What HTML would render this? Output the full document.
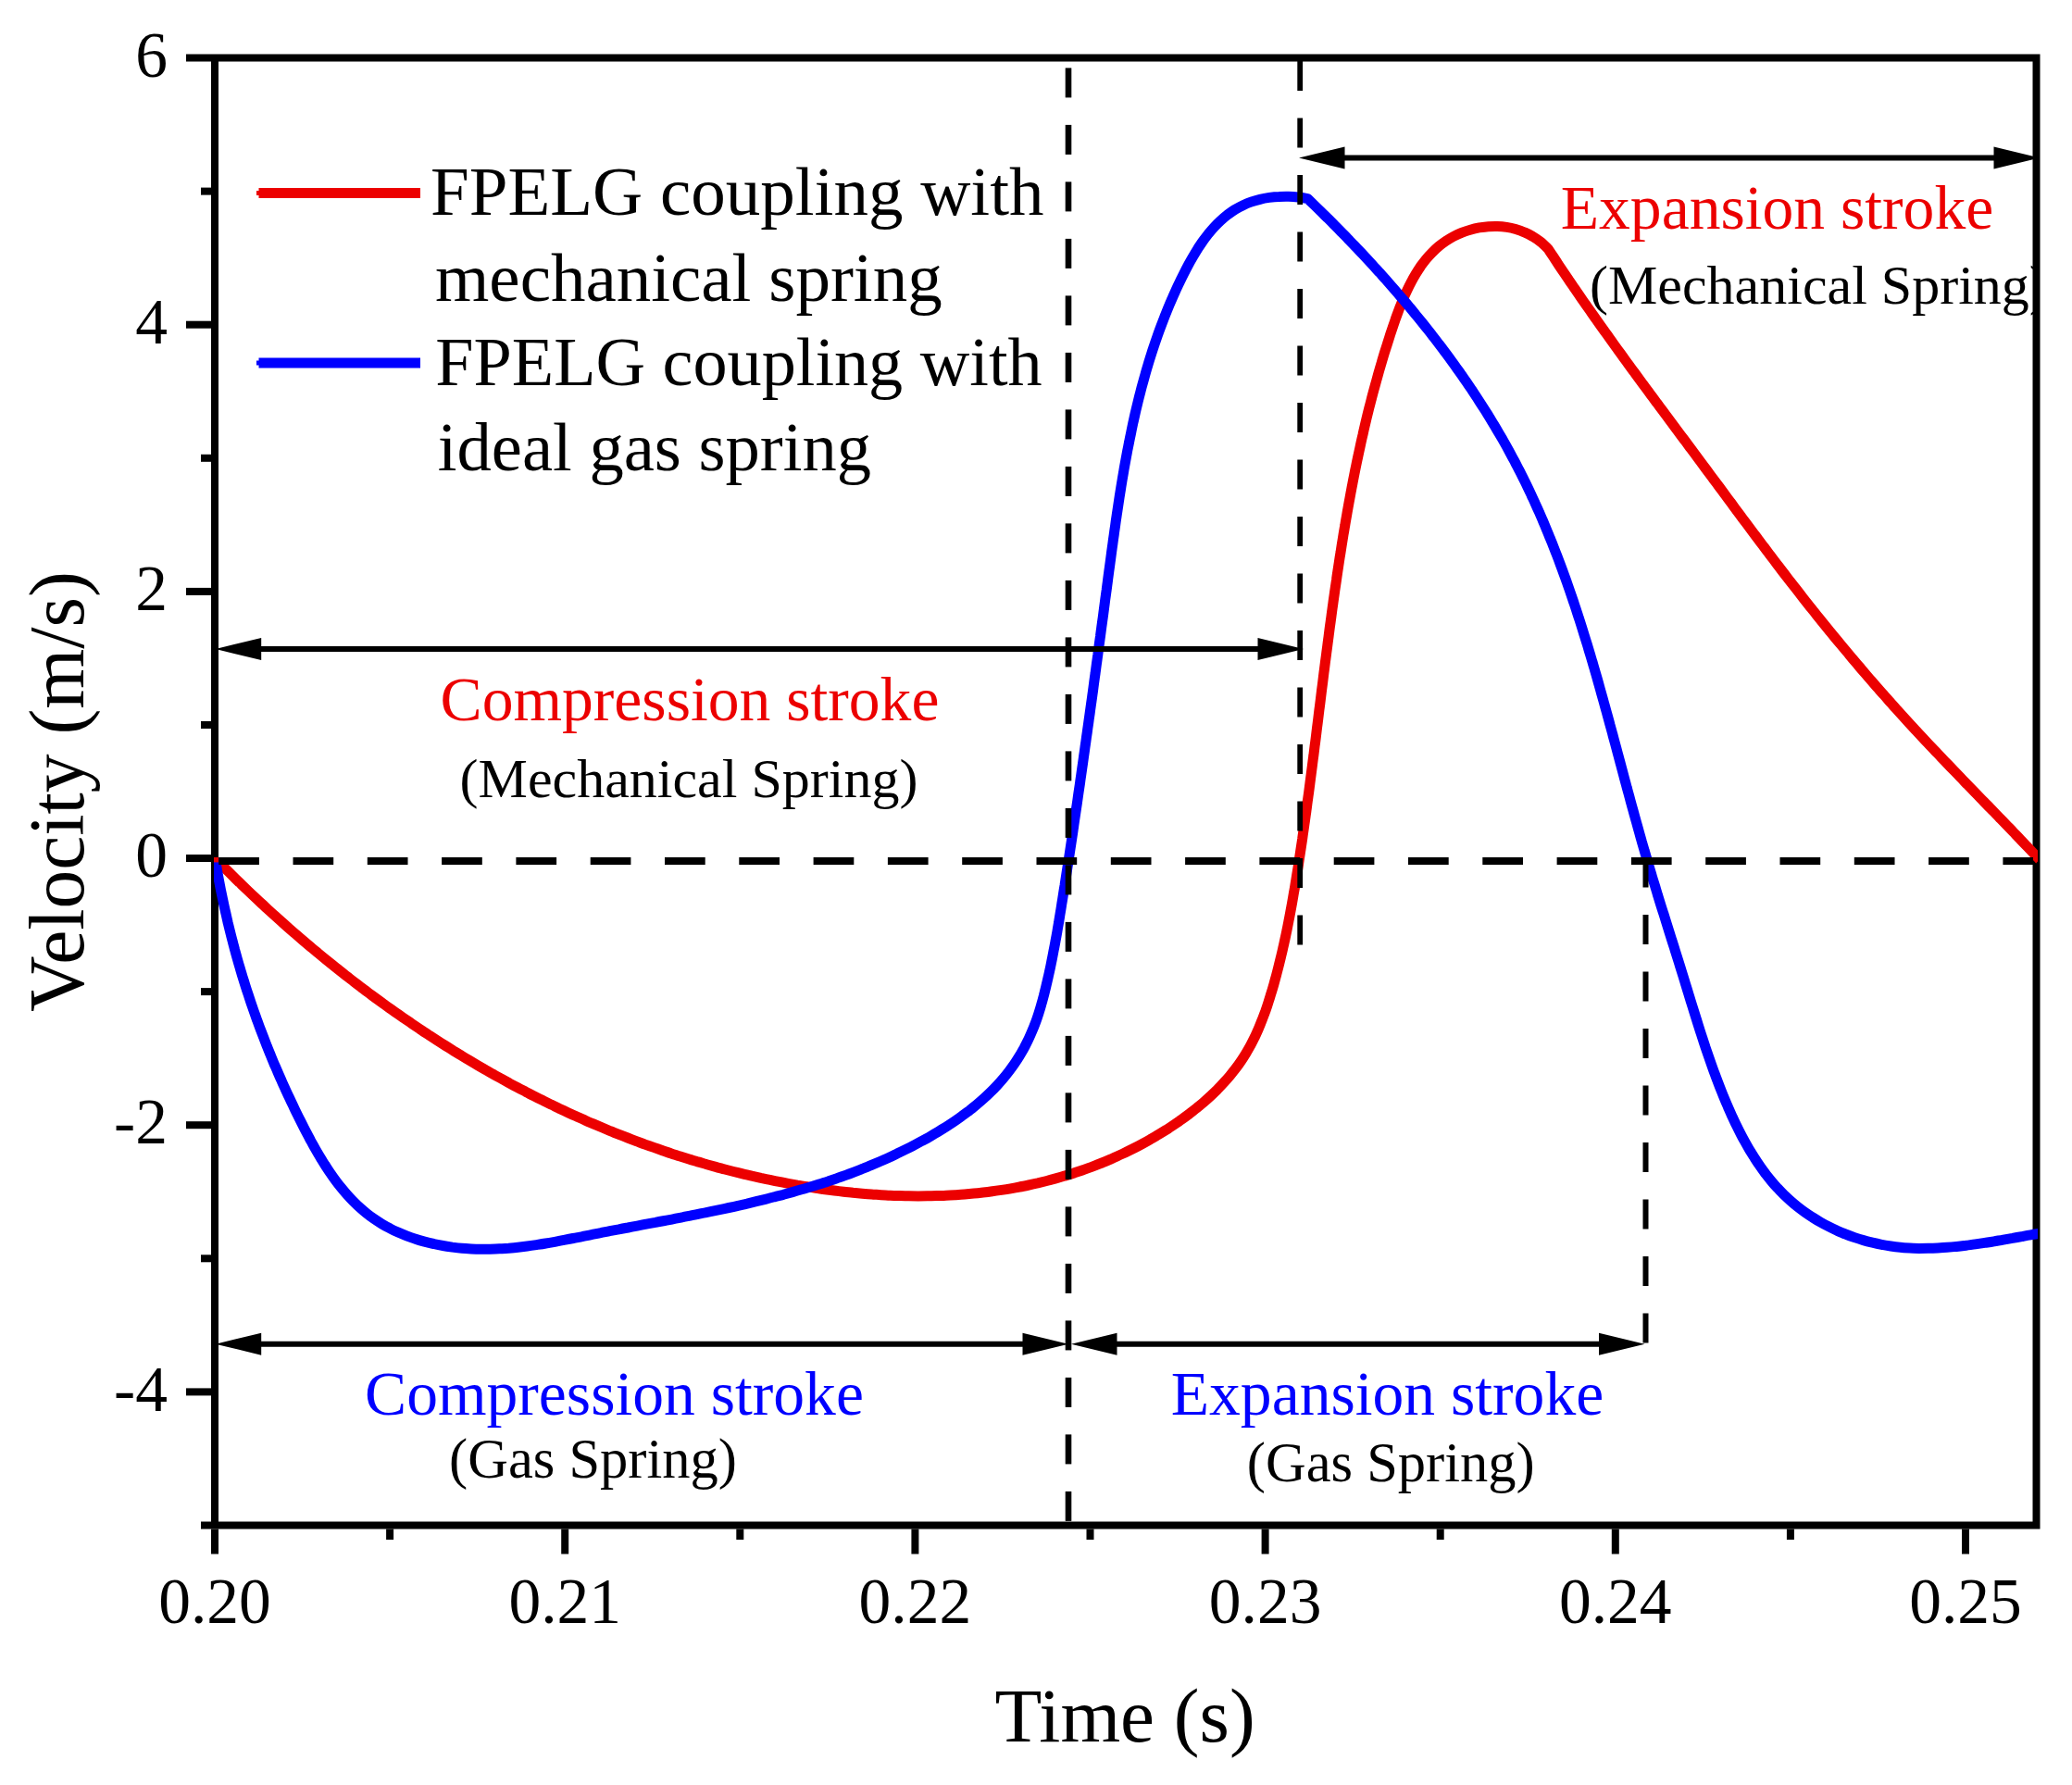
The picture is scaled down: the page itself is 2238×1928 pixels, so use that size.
<!DOCTYPE html>
<html lang="en"><head><meta charset="utf-8"><title>Velocity vs Time</title>
<style>html,body{margin:0;padding:0;background:#fff}body{width:2238px;height:1928px;overflow:hidden}svg{display:block}</style>
</head><body>
<svg width="2238" height="1928" viewBox="0 0 2238 1928" role="img" aria-label="Velocity versus time for FPELG with mechanical spring and ideal gas spring">
<rect x="0" y="0" width="2238" height="1928" fill="#fff"/>
<defs><clipPath id="pc"><rect x="231" y="62" width="1970" height="1586"/></clipPath><clipPath id="pcr"><path d="M231 926H246V62H2201V1648H231Z"/></clipPath></defs>
<g stroke="#000" stroke-width="8" fill="none" stroke-linecap="butt">
<rect x="232.0" y="62.5" width="1967.5" height="1585.0"/>
<line x1="217.0" y1="1647.5" x2="228.0" y2="1647.5"/>
<line x1="201.0" y1="1503.4" x2="228.0" y2="1503.4"/>
<line x1="217.0" y1="1359.3" x2="228.0" y2="1359.3"/>
<line x1="201.0" y1="1215.2" x2="228.0" y2="1215.2"/>
<line x1="217.0" y1="1071.1" x2="228.0" y2="1071.1"/>
<line x1="201.0" y1="927.0" x2="228.0" y2="927.0"/>
<line x1="217.0" y1="783.0" x2="228.0" y2="783.0"/>
<line x1="201.0" y1="638.9" x2="228.0" y2="638.9"/>
<line x1="217.0" y1="494.8" x2="228.0" y2="494.8"/>
<line x1="201.0" y1="350.7" x2="228.0" y2="350.7"/>
<line x1="217.0" y1="206.6" x2="228.0" y2="206.6"/>
<line x1="201.0" y1="62.5" x2="228.0" y2="62.5"/>
<line x1="232.0" y1="1651.5" x2="232.0" y2="1678.5"/>
<line x1="421.1" y1="1651.5" x2="421.1" y2="1663.0"/>
<line x1="610.2" y1="1651.5" x2="610.2" y2="1678.5"/>
<line x1="799.3" y1="1651.5" x2="799.3" y2="1663.0"/>
<line x1="988.4" y1="1651.5" x2="988.4" y2="1678.5"/>
<line x1="1177.5" y1="1651.5" x2="1177.5" y2="1663.0"/>
<line x1="1366.6" y1="1651.5" x2="1366.6" y2="1678.5"/>
<line x1="1555.7" y1="1651.5" x2="1555.7" y2="1663.0"/>
<line x1="1744.8" y1="1651.5" x2="1744.8" y2="1678.5"/>
<line x1="1933.9" y1="1651.5" x2="1933.9" y2="1663.0"/>
<line x1="2123.0" y1="1651.5" x2="2123.0" y2="1678.5"/>
</g>
<g fill="none" stroke-width="11.0" stroke-linejoin="round" stroke-linecap="butt">
<path clip-path="url(#pcr)" d="M232.3 927.0C233.5 928.2 237.0 931.7 239.3 934.1C241.7 936.5 244.0 938.8 246.4 941.2C248.7 943.5 251.1 945.9 253.5 948.2C255.9 950.5 258.3 952.9 260.7 955.2C263.1 957.5 265.5 959.8 267.9 962.1C270.3 964.4 272.7 966.7 275.2 969.0C277.6 971.3 280.0 973.6 282.5 975.9C284.9 978.2 287.4 980.4 289.9 982.7C292.3 984.9 294.8 987.2 297.3 989.4C299.8 991.7 302.3 993.9 304.8 996.1C307.3 998.4 309.8 1000.6 312.3 1002.8C314.8 1005.0 317.3 1007.2 319.9 1009.4C322.4 1011.6 324.9 1013.8 327.5 1016.0C330.0 1018.1 332.6 1020.3 335.2 1022.5C337.7 1024.6 340.3 1026.8 342.9 1028.9C345.5 1031.1 348.0 1033.2 350.6 1035.3C353.2 1037.4 355.8 1039.6 358.5 1041.7C361.1 1043.8 363.7 1045.9 366.3 1047.9C369.0 1050.0 371.6 1052.1 374.2 1054.2C376.9 1056.2 379.5 1058.3 382.2 1060.3C384.9 1062.4 387.5 1064.4 390.2 1066.5C392.9 1068.5 395.6 1070.5 398.2 1072.5C400.9 1074.5 403.6 1076.5 406.3 1078.5C409.1 1080.5 411.8 1082.5 414.5 1084.4C417.2 1086.4 419.9 1088.3 422.7 1090.3C425.4 1092.2 428.2 1094.2 430.9 1096.1C433.7 1098.0 436.4 1099.9 439.2 1101.8C441.9 1103.7 444.7 1105.6 447.5 1107.5C450.3 1109.4 453.1 1111.3 455.9 1113.1C458.7 1115.0 461.5 1116.8 464.3 1118.7C467.1 1120.5 469.9 1122.3 472.7 1124.1C475.5 1125.9 478.4 1127.7 481.2 1129.5C484.0 1131.3 486.9 1133.1 489.7 1134.9C492.6 1136.6 495.4 1138.4 498.3 1140.1C501.2 1141.9 504.0 1143.6 506.9 1145.3C509.8 1147.0 512.7 1148.7 515.6 1150.4C518.5 1152.1 521.4 1153.8 524.3 1155.5C527.2 1157.1 530.1 1158.8 533.0 1160.4C535.9 1162.1 538.9 1163.7 541.8 1165.3C544.7 1167.0 547.7 1168.6 550.6 1170.2C553.6 1171.8 556.5 1173.3 559.5 1174.9C562.4 1176.5 565.4 1178.0 568.4 1179.6C571.3 1181.1 574.3 1182.6 577.3 1184.1C580.3 1185.7 583.3 1187.2 586.3 1188.6C589.3 1190.1 592.3 1191.6 595.3 1193.1C598.3 1194.5 601.3 1196.0 604.3 1197.4C607.3 1198.8 610.4 1200.3 613.4 1201.7C616.4 1203.1 619.5 1204.5 622.5 1205.8C625.6 1207.2 628.6 1208.6 631.7 1209.9C634.7 1211.3 637.8 1212.6 640.9 1213.9C643.9 1215.2 647.0 1216.5 650.1 1217.8C653.2 1219.1 656.3 1220.4 659.3 1221.7C662.4 1222.9 665.5 1224.2 668.6 1225.4C671.7 1226.6 674.9 1227.8 678.0 1229.0C681.1 1230.2 684.2 1231.4 687.3 1232.6C690.5 1233.8 693.6 1234.9 696.7 1236.1C699.9 1237.2 703.0 1238.3 706.2 1239.4C709.3 1240.5 712.5 1241.6 715.6 1242.7C718.8 1243.8 722.0 1244.9 725.1 1245.9C728.3 1246.9 731.5 1248.0 734.7 1249.0C737.8 1250.0 741.0 1251.0 744.2 1252.0C747.4 1253.0 750.6 1253.9 753.8 1254.9C757.0 1255.8 760.2 1256.8 763.4 1257.7C766.7 1258.6 769.9 1259.5 773.1 1260.4C776.3 1261.3 779.5 1262.1 782.8 1263.0C786.0 1263.8 789.3 1264.7 792.5 1265.5C795.7 1266.3 799.0 1267.1 802.2 1267.9C805.5 1268.7 808.8 1269.4 812.0 1270.2C815.3 1270.9 818.5 1271.6 821.8 1272.4C825.1 1273.1 828.4 1273.8 831.7 1274.4C834.9 1275.1 838.2 1275.8 841.5 1276.4C844.8 1277.1 848.1 1277.7 851.4 1278.3C854.7 1278.9 858.0 1279.5 861.3 1280.1C864.6 1280.6 867.9 1281.2 871.3 1281.7C874.6 1282.3 877.9 1282.8 881.2 1283.3C884.6 1283.8 887.9 1284.2 891.2 1284.7C894.6 1285.2 897.9 1285.6 901.2 1286.0C904.6 1286.4 907.9 1286.8 911.3 1287.2C914.6 1287.6 917.9 1287.9 921.3 1288.3C924.6 1288.6 928.0 1288.9 931.3 1289.2C934.7 1289.5 938.1 1289.8 941.4 1290.0C944.8 1290.2 948.1 1290.5 951.5 1290.7C954.8 1290.9 958.2 1291.0 961.5 1291.2C964.9 1291.4 968.3 1291.5 971.6 1291.6C975.0 1291.7 978.3 1291.8 981.7 1291.8C985.0 1291.9 988.4 1291.9 991.7 1291.9C995.1 1291.9 998.5 1291.9 1001.8 1291.8C1005.2 1291.8 1008.5 1291.7 1011.8 1291.6C1015.2 1291.5 1018.5 1291.4 1021.9 1291.2C1025.2 1291.1 1028.6 1290.9 1031.9 1290.7C1035.2 1290.5 1038.6 1290.3 1041.9 1290.0C1045.2 1289.7 1048.6 1289.4 1051.9 1289.1C1055.2 1288.8 1058.5 1288.4 1061.8 1288.0C1065.1 1287.7 1068.5 1287.3 1071.8 1286.8C1075.1 1286.4 1078.4 1285.9 1081.7 1285.4C1085.0 1284.9 1088.2 1284.4 1091.5 1283.8C1094.8 1283.2 1098.1 1282.6 1101.4 1282.0C1104.6 1281.4 1107.9 1280.7 1111.2 1280.0C1114.4 1279.3 1117.7 1278.6 1120.9 1277.9C1124.2 1277.1 1127.4 1276.3 1130.6 1275.5C1133.9 1274.7 1137.1 1273.8 1140.3 1272.9C1143.5 1272.0 1146.7 1271.1 1149.9 1270.1C1153.1 1269.2 1156.3 1268.2 1159.5 1267.2C1162.7 1266.1 1165.9 1265.1 1169.0 1264.0C1172.2 1262.9 1175.4 1261.7 1178.5 1260.6C1181.7 1259.4 1184.8 1258.2 1187.9 1256.9C1191.0 1255.7 1194.1 1254.4 1197.2 1253.1C1200.3 1251.8 1203.4 1250.4 1206.5 1249.0C1209.5 1247.7 1212.6 1246.2 1215.6 1244.8C1218.6 1243.3 1221.7 1241.8 1224.7 1240.3C1227.7 1238.8 1230.7 1237.2 1233.6 1235.6C1236.6 1234.0 1239.5 1232.4 1242.4 1230.7C1245.4 1229.1 1248.3 1227.3 1251.2 1225.6C1254.0 1223.9 1256.9 1222.1 1259.8 1220.3C1262.6 1218.5 1265.4 1216.6 1268.2 1214.7C1271.0 1212.8 1273.8 1210.9 1276.5 1209.0C1279.3 1207.0 1282.0 1205.0 1284.7 1203.0C1287.3 1200.9 1290.0 1198.9 1292.6 1196.8C1295.2 1194.6 1297.8 1192.5 1300.3 1190.3C1302.8 1188.1 1305.3 1185.9 1307.8 1183.6C1310.2 1181.3 1312.6 1179.0 1315.0 1176.7C1317.3 1174.3 1319.6 1171.9 1321.8 1169.4C1324.1 1167.0 1326.3 1164.5 1328.4 1162.0C1330.5 1159.4 1332.6 1156.8 1334.6 1154.2C1336.6 1151.6 1338.5 1148.9 1340.4 1146.1C1342.2 1143.4 1344.0 1140.6 1345.7 1137.8C1347.4 1135.0 1349.1 1132.1 1350.7 1129.2C1352.2 1126.3 1353.7 1123.3 1355.2 1120.3C1356.6 1117.3 1358.0 1114.2 1359.3 1111.2C1360.7 1108.1 1361.9 1105.0 1363.1 1101.8C1364.4 1098.7 1365.5 1095.6 1366.7 1092.4C1367.8 1089.2 1368.9 1086.0 1369.9 1082.8C1371.0 1079.6 1372.0 1076.3 1372.9 1073.1C1373.9 1069.9 1374.9 1066.6 1375.8 1063.4C1376.7 1060.1 1377.6 1056.9 1378.5 1053.6C1379.3 1050.4 1380.2 1047.1 1381.0 1043.9C1381.8 1040.6 1382.6 1037.3 1383.4 1034.1C1384.2 1030.8 1385.0 1027.6 1385.7 1024.3C1386.5 1021.0 1387.2 1017.8 1387.9 1014.5C1388.6 1011.2 1389.3 1008.0 1390.0 1004.7C1390.6 1001.4 1391.3 998.1 1391.9 994.9C1392.6 991.6 1393.2 988.3 1393.8 985.0C1394.4 981.8 1395.0 978.5 1395.6 975.2C1396.2 971.9 1396.8 968.6 1397.3 965.3C1397.9 962.1 1398.5 958.8 1399.0 955.5C1399.6 952.2 1400.1 948.9 1400.6 945.6C1401.1 942.3 1401.7 939.0 1402.2 935.7C1402.7 932.4 1403.2 929.1 1403.7 925.8C1404.2 922.5 1404.7 919.2 1405.2 915.9C1405.7 912.6 1406.2 909.3 1406.7 906.0C1407.1 902.7 1407.6 899.3 1408.1 896.0C1408.6 892.7 1409.0 889.4 1409.5 886.1C1410.0 882.8 1410.4 879.4 1410.9 876.1C1411.3 872.8 1411.8 869.5 1412.2 866.2C1412.7 862.8 1413.1 859.5 1413.6 856.2C1414.0 852.9 1414.5 849.5 1414.9 846.2C1415.3 842.9 1415.8 839.6 1416.2 836.2C1416.6 832.9 1417.1 829.6 1417.5 826.2C1417.9 822.9 1418.3 819.6 1418.8 816.3C1419.2 812.9 1419.6 809.6 1420.0 806.3C1420.5 802.9 1420.9 799.6 1421.3 796.3C1421.7 792.9 1422.1 789.6 1422.5 786.3C1423.0 782.9 1423.4 779.6 1423.8 776.2C1424.2 772.9 1424.6 769.6 1425.0 766.2C1425.5 762.9 1425.9 759.6 1426.3 756.2C1426.7 752.9 1427.1 749.6 1427.5 746.2C1427.9 742.9 1428.4 739.6 1428.8 736.2C1429.2 732.9 1429.6 729.6 1430.0 726.2C1430.5 722.9 1430.9 719.6 1431.3 716.2C1431.7 712.9 1432.2 709.6 1432.6 706.3C1433.0 702.9 1433.5 699.6 1433.9 696.3C1434.3 692.9 1434.8 689.6 1435.2 686.3C1435.6 683.0 1436.1 679.6 1436.5 676.3C1437.0 673.0 1437.4 669.7 1437.9 666.3C1438.3 663.0 1438.8 659.7 1439.2 656.4C1439.7 653.1 1440.1 649.7 1440.6 646.4C1441.1 643.1 1441.5 639.8 1442.0 636.5C1442.5 633.2 1443.0 629.9 1443.5 626.5C1443.9 623.2 1444.4 619.9 1444.9 616.6C1445.4 613.3 1445.9 610.0 1446.4 606.7C1446.9 603.4 1447.4 600.1 1448.0 596.8C1448.5 593.5 1449.0 590.2 1449.5 586.9C1450.1 583.6 1450.6 580.3 1451.1 577.0C1451.7 573.8 1452.2 570.5 1452.8 567.2C1453.3 563.9 1453.9 560.6 1454.5 557.3C1455.0 554.1 1455.6 550.8 1456.2 547.5C1456.8 544.2 1457.4 541.0 1458.0 537.7C1458.6 534.4 1459.2 531.2 1459.8 527.9C1460.4 524.7 1461.1 521.4 1461.7 518.1C1462.3 514.9 1463.0 511.6 1463.6 508.4C1464.3 505.1 1464.9 501.9 1465.6 498.6C1466.3 495.4 1467.0 492.1 1467.7 488.9C1468.4 485.7 1469.1 482.4 1469.8 479.2C1470.5 475.9 1471.2 472.7 1472.0 469.5C1472.7 466.2 1473.4 463.0 1474.2 459.7C1475.0 456.5 1475.7 453.3 1476.5 450.0C1477.3 446.8 1478.1 443.5 1478.9 440.3C1479.8 437.1 1480.6 433.8 1481.4 430.6C1482.3 427.3 1483.1 424.1 1484.0 420.8C1484.9 417.6 1485.8 414.3 1486.7 411.1C1487.6 407.8 1488.5 404.6 1489.4 401.3C1490.4 398.1 1491.3 394.8 1492.3 391.5C1493.2 388.3 1494.2 385.0 1495.2 381.7C1496.2 378.5 1497.2 375.2 1498.3 371.9C1499.3 368.7 1500.4 365.4 1501.4 362.1C1502.5 358.8 1503.6 355.5 1504.7 352.2C1505.8 348.9 1507.0 345.6 1508.1 342.4C1509.3 339.1 1510.5 335.8 1511.7 332.6C1513.0 329.4 1514.3 326.2 1515.6 323.0C1516.9 319.9 1518.3 316.7 1519.8 313.6C1521.2 310.6 1522.7 307.5 1524.3 304.6C1525.8 301.6 1527.5 298.7 1529.2 295.9C1530.9 293.1 1532.7 290.3 1534.5 287.6C1536.4 285.0 1538.4 282.4 1540.4 279.9C1542.4 277.4 1544.6 275.0 1546.8 272.8C1549.1 270.5 1551.4 268.3 1553.8 266.3C1556.3 264.2 1558.8 262.3 1561.5 260.5C1564.2 258.7 1567.0 257.0 1569.8 255.5C1572.7 254.0 1575.7 252.6 1578.7 251.4C1581.8 250.2 1584.9 249.1 1588.1 248.2C1591.2 247.3 1594.5 246.5 1597.7 245.9C1601.0 245.4 1604.3 244.9 1607.6 244.7C1610.9 244.5 1614.2 244.4 1617.5 244.5C1620.8 244.6 1624.1 244.9 1627.4 245.4C1630.7 245.9 1633.9 246.6 1637.1 247.5C1640.3 248.4 1643.5 249.5 1646.6 250.9C1649.7 252.2 1652.7 253.7 1655.6 255.5C1658.6 257.2 1661.4 259.2 1664.2 261.4C1666.9 263.6 1670.8 267.5 1672.1 268.7L1672.1 268.7C1673.0 270.1 1675.8 274.4 1677.7 277.2C1679.6 280.1 1681.5 282.9 1683.3 285.8C1685.2 288.6 1687.1 291.4 1689.0 294.3C1690.9 297.1 1692.8 299.9 1694.7 302.7C1696.7 305.5 1698.6 308.4 1700.5 311.2C1702.4 314.0 1704.4 316.8 1706.3 319.6C1708.2 322.4 1710.2 325.2 1712.1 328.0C1714.1 330.8 1716.0 333.6 1718.0 336.3C1719.9 339.1 1721.9 341.9 1723.8 344.7C1725.8 347.5 1727.8 350.3 1729.7 353.0C1731.7 355.8 1733.7 358.6 1735.7 361.3C1737.7 364.1 1739.6 366.9 1741.6 369.6C1743.6 372.4 1745.6 375.2 1747.6 377.9C1749.6 380.7 1751.6 383.4 1753.6 386.2C1755.6 389.0 1757.6 391.7 1759.6 394.5C1761.6 397.2 1763.6 400.0 1765.7 402.7C1767.7 405.5 1769.7 408.2 1771.7 410.9C1773.7 413.7 1775.7 416.4 1777.8 419.2C1779.8 421.9 1781.8 424.7 1783.8 427.4C1785.9 430.1 1787.9 432.9 1789.9 435.6C1791.9 438.3 1794.0 441.1 1796.0 443.8C1798.0 446.6 1800.1 449.3 1802.1 452.0C1804.1 454.8 1806.2 457.5 1808.2 460.2C1810.2 463.0 1812.3 465.7 1814.3 468.4C1816.3 471.2 1818.4 473.9 1820.4 476.6C1822.4 479.4 1824.5 482.1 1826.5 484.8C1828.5 487.6 1830.6 490.3 1832.6 493.0C1834.6 495.8 1836.7 498.5 1838.7 501.2C1840.7 504.0 1842.8 506.7 1844.8 509.5C1846.8 512.2 1848.9 514.9 1850.9 517.7C1852.9 520.4 1855.0 523.2 1857.0 525.9C1859.0 528.6 1861.0 531.4 1863.1 534.1C1865.1 536.9 1867.1 539.6 1869.2 542.3C1871.2 545.1 1873.2 547.8 1875.2 550.6C1877.3 553.3 1879.3 556.0 1881.3 558.8C1883.4 561.5 1885.4 564.2 1887.5 567.0C1889.5 569.7 1891.5 572.4 1893.6 575.2C1895.6 577.9 1897.7 580.6 1899.7 583.4C1901.8 586.1 1903.8 588.8 1905.9 591.5C1907.9 594.3 1910.0 597.0 1912.0 599.7C1914.1 602.4 1916.1 605.1 1918.2 607.8C1920.3 610.5 1922.3 613.3 1924.4 616.0C1926.5 618.7 1928.6 621.4 1930.6 624.1C1932.7 626.8 1934.8 629.5 1936.9 632.2C1939.0 634.8 1941.1 637.5 1943.2 640.2C1945.3 642.9 1947.4 645.6 1949.5 648.3C1951.6 650.9 1953.7 653.6 1955.8 656.3C1958.0 658.9 1960.1 661.6 1962.2 664.3C1964.3 666.9 1966.5 669.6 1968.6 672.2C1970.8 674.9 1972.9 677.5 1975.1 680.2C1977.2 682.8 1979.4 685.4 1981.5 688.1C1983.7 690.7 1985.9 693.3 1988.0 695.9C1990.2 698.6 1992.4 701.2 1994.6 703.8C1996.8 706.4 1998.9 709.0 2001.1 711.6C2003.3 714.2 2005.5 716.8 2007.7 719.4C2009.9 722.0 2012.2 724.6 2014.4 727.2C2016.6 729.8 2018.8 732.4 2021.0 734.9C2023.3 737.5 2025.5 740.1 2027.7 742.6C2030.0 745.2 2032.2 747.8 2034.5 750.3C2036.7 752.9 2039.0 755.4 2041.3 758.0C2043.5 760.5 2045.8 763.0 2048.1 765.6C2050.4 768.1 2052.6 770.6 2054.9 773.2C2057.2 775.7 2059.5 778.2 2061.8 780.7C2064.1 783.2 2066.4 785.7 2068.7 788.2C2071.0 790.7 2073.4 793.2 2075.7 795.7C2078.0 798.2 2080.3 800.7 2082.7 803.2C2085.0 805.6 2087.3 808.1 2089.7 810.6C2092.0 813.1 2094.4 815.5 2096.7 818.0C2099.1 820.5 2101.4 822.9 2103.8 825.4C2106.2 827.9 2108.5 830.3 2110.9 832.8C2113.2 835.2 2115.6 837.7 2118.0 840.1C2120.3 842.6 2122.7 845.0 2125.1 847.5C2127.4 849.9 2129.8 852.4 2132.2 854.8C2134.6 857.3 2136.9 859.7 2139.3 862.2C2141.7 864.6 2144.0 867.1 2146.4 869.5C2148.8 872.0 2151.2 874.4 2153.5 876.8C2155.9 879.3 2158.3 881.7 2160.6 884.2C2163.0 886.6 2165.4 889.1 2167.7 891.5C2170.1 894.0 2172.5 896.4 2174.8 898.9C2177.2 901.4 2179.6 903.8 2181.9 906.3C2184.3 908.7 2186.6 911.2 2189.0 913.7C2191.3 916.1 2193.7 918.6 2196.0 921.1C2198.3 923.5 2201.8 927.3 2203.0 928.5" stroke="#ec0000"/>
<path clip-path="url(#pc)" d="M232.3 927.0C232.6 928.7 233.4 933.8 234.0 937.1C234.6 940.5 235.2 943.8 235.8 947.2C236.4 950.5 237.1 953.9 237.7 957.2C238.3 960.5 239.0 963.8 239.7 967.2C240.4 970.5 241.1 973.8 241.8 977.1C242.5 980.4 243.2 983.6 244.0 986.9C244.7 990.2 245.5 993.5 246.2 996.7C247.0 1000.0 247.8 1003.3 248.6 1006.5C249.4 1009.8 250.2 1013.0 251.1 1016.2C251.9 1019.5 252.8 1022.7 253.6 1025.9C254.5 1029.1 255.4 1032.4 256.3 1035.6C257.2 1038.8 258.1 1042.0 259.1 1045.2C260.0 1048.4 261.0 1051.6 261.9 1054.7C262.9 1057.9 263.9 1061.1 264.9 1064.3C265.9 1067.5 266.9 1070.6 268.0 1073.8C269.0 1076.9 270.1 1080.1 271.1 1083.2C272.2 1086.4 273.3 1089.5 274.4 1092.7C275.5 1095.8 276.6 1099.0 277.7 1102.1C278.9 1105.2 280.0 1108.3 281.2 1111.5C282.4 1114.6 283.6 1117.7 284.8 1120.8C286.0 1123.9 287.2 1127.1 288.4 1130.2C289.7 1133.3 290.9 1136.4 292.2 1139.5C293.4 1142.6 294.7 1145.7 296.0 1148.8C297.3 1151.8 298.7 1154.9 300.0 1158.0C301.3 1161.1 302.7 1164.2 304.1 1167.3C305.4 1170.4 306.8 1173.4 308.2 1176.5C309.6 1179.6 311.1 1182.7 312.5 1185.7C313.9 1188.8 315.4 1191.9 316.9 1194.9C318.3 1198.0 319.8 1201.1 321.3 1204.1C322.8 1207.2 324.4 1210.3 325.9 1213.3C327.5 1216.4 329.0 1219.4 330.6 1222.5C332.2 1225.5 333.8 1228.6 335.4 1231.6C337.1 1234.6 338.7 1237.6 340.4 1240.6C342.1 1243.6 343.8 1246.5 345.6 1249.5C347.3 1252.4 349.1 1255.3 350.9 1258.2C352.8 1261.0 354.6 1263.9 356.5 1266.6C358.4 1269.4 360.4 1272.2 362.4 1274.9C364.4 1277.6 366.4 1280.2 368.5 1282.8C370.6 1285.4 372.7 1287.9 374.9 1290.4C377.1 1292.9 379.4 1295.3 381.7 1297.6C384.0 1299.9 386.3 1302.2 388.8 1304.4C391.2 1306.6 393.7 1308.7 396.2 1310.7C398.8 1312.8 401.4 1314.7 404.1 1316.6C406.8 1318.5 409.5 1320.2 412.4 1321.9C415.2 1323.6 418.1 1325.2 421.0 1326.7C423.9 1328.3 426.9 1329.7 430.0 1331.1C433.0 1332.4 436.1 1333.7 439.2 1334.9C442.4 1336.1 445.6 1337.2 448.8 1338.2C452.0 1339.3 455.2 1340.2 458.5 1341.1C461.8 1342.0 465.1 1342.8 468.4 1343.5C471.7 1344.3 475.1 1344.9 478.5 1345.5C481.8 1346.1 485.2 1346.6 488.6 1347.1C492.0 1347.5 495.4 1347.9 498.8 1348.2C502.2 1348.5 505.6 1348.7 509.0 1348.9C512.4 1349.1 515.8 1349.2 519.2 1349.2C522.6 1349.3 525.9 1349.3 529.3 1349.2C532.7 1349.1 536.1 1349.0 539.4 1348.8C542.8 1348.7 546.1 1348.4 549.5 1348.2C552.8 1347.9 556.1 1347.6 559.5 1347.2C562.8 1346.8 566.1 1346.4 569.5 1346.0C572.8 1345.6 576.1 1345.1 579.4 1344.6C582.7 1344.1 586.1 1343.6 589.4 1343.0C592.7 1342.5 596.0 1341.9 599.3 1341.3C602.6 1340.7 605.9 1340.1 609.2 1339.4C612.5 1338.8 615.8 1338.2 619.1 1337.5C622.4 1336.9 625.6 1336.2 628.9 1335.6C632.2 1334.9 635.5 1334.3 638.8 1333.6C642.1 1333.0 645.4 1332.3 648.7 1331.7C652.0 1331.0 655.3 1330.4 658.6 1329.7C661.9 1329.1 665.2 1328.5 668.4 1327.9C671.7 1327.2 675.0 1326.6 678.3 1326.0C681.6 1325.3 684.9 1324.7 688.2 1324.1C691.5 1323.5 694.8 1322.9 698.1 1322.2C701.4 1321.6 704.7 1321.0 708.0 1320.4C711.3 1319.7 714.6 1319.1 717.9 1318.5C721.2 1317.9 724.5 1317.2 727.8 1316.6C731.1 1316.0 734.4 1315.3 737.7 1314.7C741.0 1314.0 744.3 1313.4 747.6 1312.7C750.9 1312.1 754.2 1311.4 757.5 1310.7C760.8 1310.1 764.1 1309.4 767.4 1308.7C770.7 1308.0 774.0 1307.3 777.3 1306.6C780.6 1305.9 783.9 1305.2 787.2 1304.5C790.5 1303.8 793.8 1303.1 797.1 1302.3C800.4 1301.6 803.7 1300.8 806.9 1300.1C810.2 1299.3 813.5 1298.5 816.8 1297.7C820.1 1296.9 823.4 1296.1 826.6 1295.3C829.9 1294.5 833.2 1293.7 836.4 1292.8C839.7 1292.0 843.0 1291.1 846.2 1290.3C849.5 1289.4 852.7 1288.5 855.9 1287.6C859.2 1286.7 862.4 1285.8 865.6 1284.8C868.9 1283.9 872.1 1282.9 875.3 1282.0C878.5 1281.0 881.7 1280.0 884.9 1279.0C888.1 1278.0 891.3 1276.9 894.5 1275.9C897.6 1274.8 900.8 1273.7 904.0 1272.7C907.1 1271.6 910.3 1270.4 913.4 1269.3C916.5 1268.2 919.7 1267.0 922.8 1265.8C925.9 1264.6 929.0 1263.4 932.1 1262.2C935.2 1260.9 938.3 1259.7 941.4 1258.4C944.5 1257.1 947.6 1255.8 950.6 1254.5C953.7 1253.1 956.7 1251.8 959.8 1250.4C962.8 1249.0 965.9 1247.6 968.9 1246.1C971.9 1244.7 975.0 1243.2 978.0 1241.7C981.0 1240.2 984.0 1238.7 987.0 1237.1C990.0 1235.6 992.9 1234.0 995.9 1232.3C998.9 1230.7 1001.9 1229.1 1004.8 1227.4C1007.7 1225.7 1010.7 1223.9 1013.6 1222.2C1016.5 1220.4 1019.4 1218.6 1022.3 1216.8C1025.1 1215.0 1028.0 1213.1 1030.8 1211.2C1033.6 1209.3 1036.4 1207.3 1039.1 1205.3C1041.9 1203.4 1044.6 1201.3 1047.3 1199.3C1049.9 1197.2 1052.6 1195.1 1055.2 1192.9C1057.7 1190.8 1060.3 1188.6 1062.8 1186.3C1065.3 1184.1 1067.7 1181.8 1070.1 1179.4C1072.5 1177.1 1074.8 1174.7 1077.1 1172.2C1079.4 1169.8 1081.6 1167.3 1083.7 1164.8C1085.9 1162.2 1087.9 1159.6 1089.9 1157.0C1092.0 1154.3 1093.9 1151.6 1095.8 1148.9C1097.6 1146.1 1099.4 1143.3 1101.2 1140.5C1102.9 1137.6 1104.6 1134.7 1106.2 1131.8C1107.7 1128.9 1109.3 1125.9 1110.7 1122.9C1112.2 1119.9 1113.5 1116.8 1114.8 1113.7C1116.1 1110.7 1117.4 1107.5 1118.5 1104.4C1119.7 1101.3 1120.8 1098.1 1121.8 1094.9C1122.8 1091.7 1123.8 1088.4 1124.7 1085.2C1125.7 1082.0 1126.5 1078.7 1127.4 1075.4C1128.2 1072.2 1129.0 1068.9 1129.8 1065.6C1130.6 1062.3 1131.4 1059.0 1132.1 1055.8C1132.8 1052.5 1133.6 1049.2 1134.3 1045.9C1135.0 1042.6 1135.6 1039.3 1136.3 1036.0C1137.0 1032.7 1137.6 1029.4 1138.2 1026.1C1138.9 1022.8 1139.5 1019.4 1140.1 1016.1C1140.7 1012.8 1141.3 1009.5 1141.9 1006.2C1142.4 1002.9 1143.0 999.6 1143.6 996.2C1144.1 992.9 1144.7 989.6 1145.2 986.3C1145.8 983.0 1146.3 979.6 1146.8 976.3C1147.4 973.0 1147.9 969.7 1148.4 966.4C1148.9 963.0 1149.4 959.7 1150.0 956.4C1150.5 953.1 1151.0 949.7 1151.5 946.4C1152.0 943.1 1152.5 939.8 1153.0 936.5C1153.5 933.1 1154.1 929.8 1154.6 926.5C1155.1 923.2 1155.6 919.8 1156.1 916.5C1156.6 913.2 1157.1 909.9 1157.6 906.6C1158.1 903.2 1158.6 899.9 1159.1 896.6C1159.6 893.3 1160.0 890.0 1160.5 886.6C1161.0 883.3 1161.5 880.0 1162.0 876.7C1162.5 873.4 1163.0 870.0 1163.5 866.7C1164.0 863.4 1164.4 860.1 1164.9 856.7C1165.4 853.4 1165.9 850.1 1166.4 846.8C1166.8 843.5 1167.3 840.1 1167.8 836.8C1168.3 833.5 1168.7 830.2 1169.2 826.9C1169.7 823.5 1170.2 820.2 1170.6 816.9C1171.1 813.6 1171.6 810.2 1172.0 806.9C1172.5 803.6 1173.0 800.3 1173.4 796.9C1173.9 793.6 1174.4 790.3 1174.8 787.0C1175.3 783.7 1175.8 780.3 1176.2 777.0C1176.7 773.7 1177.2 770.4 1177.6 767.0C1178.1 763.7 1178.5 760.4 1179.0 757.1C1179.5 753.7 1179.9 750.4 1180.4 747.1C1180.8 743.8 1181.3 740.4 1181.7 737.1C1182.2 733.8 1182.6 730.4 1183.1 727.1C1183.5 723.8 1184.0 720.5 1184.4 717.1C1184.9 713.8 1185.3 710.5 1185.8 707.2C1186.2 703.8 1186.7 700.5 1187.1 697.2C1187.6 693.8 1188.0 690.5 1188.5 687.2C1188.9 683.8 1189.4 680.5 1189.8 677.2C1190.3 673.8 1190.7 670.5 1191.2 667.2C1191.6 663.9 1192.1 660.5 1192.5 657.2C1193.0 653.8 1193.4 650.5 1193.8 647.2C1194.3 643.8 1194.7 640.5 1195.2 637.2C1195.6 633.8 1196.1 630.5 1196.5 627.2C1196.9 623.8 1197.4 620.5 1197.8 617.2C1198.3 613.8 1198.7 610.5 1199.2 607.1C1199.6 603.8 1200.1 600.5 1200.5 597.1C1201.0 593.8 1201.4 590.4 1201.9 587.1C1202.3 583.8 1202.8 580.4 1203.3 577.1C1203.7 573.8 1204.2 570.4 1204.7 567.1C1205.1 563.8 1205.6 560.4 1206.1 557.1C1206.6 553.8 1207.1 550.4 1207.6 547.1C1208.1 543.8 1208.6 540.4 1209.1 537.1C1209.6 533.8 1210.2 530.5 1210.7 527.1C1211.2 523.8 1211.8 520.5 1212.3 517.2C1212.9 513.9 1213.5 510.6 1214.0 507.2C1214.6 503.9 1215.2 500.6 1215.8 497.3C1216.4 494.0 1217.0 490.7 1217.6 487.4C1218.3 484.1 1218.9 480.8 1219.6 477.5C1220.2 474.2 1220.9 470.9 1221.6 467.7C1222.2 464.4 1222.9 461.1 1223.6 457.8C1224.4 454.5 1225.1 451.3 1225.8 448.0C1226.6 444.7 1227.3 441.5 1228.1 438.2C1228.9 434.9 1229.7 431.7 1230.5 428.4C1231.3 425.2 1232.2 421.9 1233.0 418.7C1233.9 415.4 1234.8 412.2 1235.7 409.0C1236.6 405.8 1237.5 402.5 1238.4 399.3C1239.4 396.1 1240.3 392.9 1241.3 389.7C1242.3 386.5 1243.3 383.3 1244.3 380.1C1245.4 376.9 1246.4 373.7 1247.5 370.5C1248.6 367.3 1249.7 364.1 1250.8 361.0C1252.0 357.8 1253.1 354.6 1254.3 351.5C1255.5 348.3 1256.7 345.2 1257.9 342.1C1259.2 338.9 1260.4 335.8 1261.7 332.7C1263.0 329.5 1264.3 326.4 1265.7 323.3C1267.0 320.2 1268.4 317.1 1269.8 314.0C1271.2 310.9 1272.7 307.8 1274.2 304.7C1275.6 301.7 1277.1 298.6 1278.7 295.5C1280.2 292.5 1281.8 289.4 1283.4 286.4C1285.0 283.4 1286.7 280.4 1288.4 277.5C1290.1 274.6 1291.8 271.7 1293.6 268.8C1295.5 266.0 1297.3 263.2 1299.2 260.5C1301.2 257.8 1303.2 255.1 1305.2 252.5C1307.3 250.0 1309.4 247.5 1311.6 245.1C1313.8 242.7 1316.1 240.4 1318.5 238.2C1320.8 236.1 1323.3 234.0 1325.8 232.0C1328.4 230.1 1331.0 228.2 1333.7 226.5C1336.4 224.9 1339.2 223.3 1342.2 221.9C1345.1 220.5 1348.1 219.2 1351.2 218.1C1354.4 217.0 1357.6 216.1 1360.9 215.3C1364.2 214.5 1367.5 213.9 1370.9 213.4C1374.3 212.9 1377.8 212.5 1381.3 212.4C1384.8 212.2 1388.3 212.1 1391.8 212.2C1395.2 212.3 1398.8 212.6 1402.2 213.0C1405.7 213.4 1410.8 214.3 1412.5 214.6L1412.5 214.6C1413.7 215.8 1417.3 219.3 1419.7 221.6C1422.1 223.9 1424.5 226.3 1426.9 228.7C1429.3 231.0 1431.7 233.4 1434.1 235.7C1436.5 238.1 1438.9 240.5 1441.2 242.9C1443.6 245.3 1446.0 247.7 1448.3 250.1C1450.7 252.5 1453.0 254.9 1455.4 257.3C1457.7 259.7 1460.0 262.2 1462.4 264.6C1464.7 267.0 1467.0 269.5 1469.3 271.9C1471.6 274.4 1473.9 276.8 1476.2 279.3C1478.5 281.8 1480.8 284.3 1483.1 286.7C1485.4 289.2 1487.6 291.7 1489.9 294.2C1492.1 296.7 1494.4 299.2 1496.6 301.7C1498.9 304.3 1501.1 306.8 1503.3 309.3C1505.5 311.9 1507.7 314.4 1509.9 317.0C1512.1 319.5 1514.3 322.1 1516.5 324.6C1518.7 327.2 1520.9 329.8 1523.0 332.4C1525.2 335.0 1527.3 337.6 1529.4 340.2C1531.6 342.8 1533.7 345.4 1535.8 348.0C1537.9 350.6 1540.0 353.3 1542.1 355.9C1544.2 358.5 1546.3 361.2 1548.3 363.9C1550.4 366.5 1552.4 369.2 1554.5 371.9C1556.5 374.5 1558.5 377.2 1560.5 379.9C1562.6 382.6 1564.5 385.3 1566.5 388.0C1568.5 390.7 1570.5 393.5 1572.4 396.2C1574.4 398.9 1576.3 401.7 1578.3 404.4C1580.2 407.2 1582.1 409.9 1584.0 412.7C1585.9 415.5 1587.8 418.2 1589.7 421.0C1591.5 423.8 1593.4 426.6 1595.2 429.4C1597.0 432.2 1598.9 435.1 1600.7 437.9C1602.5 440.7 1604.3 443.6 1606.1 446.4C1607.8 449.3 1609.6 452.1 1611.3 455.0C1613.1 457.8 1614.8 460.7 1616.5 463.6C1618.2 466.5 1619.9 469.4 1621.6 472.3C1623.3 475.2 1624.9 478.1 1626.6 481.0C1628.2 484.0 1629.8 486.9 1631.4 489.9C1633.0 492.8 1634.6 495.8 1636.2 498.7C1637.7 501.7 1639.3 504.7 1640.8 507.7C1642.4 510.7 1643.9 513.7 1645.4 516.7C1646.9 519.7 1648.3 522.7 1649.8 525.7C1651.3 528.8 1652.7 531.8 1654.1 534.8C1655.5 537.9 1657.0 540.9 1658.3 544.0C1659.7 547.1 1661.1 550.1 1662.5 553.2C1663.8 556.3 1665.2 559.4 1666.5 562.5C1667.8 565.6 1669.1 568.7 1670.4 571.8C1671.7 574.9 1673.0 578.0 1674.2 581.2C1675.5 584.3 1676.8 587.4 1678.0 590.6C1679.2 593.7 1680.4 596.8 1681.7 600.0C1682.9 603.1 1684.1 606.3 1685.2 609.4C1686.4 612.6 1687.6 615.8 1688.7 618.9C1689.9 622.1 1691.0 625.3 1692.2 628.5C1693.3 631.7 1694.4 634.8 1695.5 638.0C1696.6 641.2 1697.7 644.4 1698.8 647.6C1699.9 650.8 1700.9 654.0 1702.0 657.2C1703.0 660.4 1704.1 663.6 1705.1 666.8C1706.2 670.0 1707.2 673.2 1708.2 676.4C1709.2 679.6 1710.2 682.8 1711.2 686.1C1712.2 689.3 1713.2 692.5 1714.2 695.7C1715.2 698.9 1716.1 702.1 1717.1 705.4C1718.1 708.6 1719.0 711.8 1720.0 715.0C1720.9 718.3 1721.9 721.5 1722.8 724.7C1723.7 727.9 1724.7 731.2 1725.6 734.4C1726.5 737.6 1727.4 740.9 1728.3 744.1C1729.2 747.3 1730.1 750.6 1731.0 753.8C1731.9 757.0 1732.8 760.3 1733.7 763.5C1734.6 766.7 1735.5 770.0 1736.4 773.2C1737.3 776.4 1738.2 779.7 1739.0 782.9C1739.9 786.2 1740.8 789.4 1741.7 792.6C1742.5 795.9 1743.4 799.1 1744.3 802.4C1745.2 805.6 1746.0 808.8 1746.9 812.1C1747.8 815.3 1748.6 818.6 1749.5 821.8C1750.4 825.1 1751.2 828.3 1752.1 831.5C1753.0 834.8 1753.8 838.0 1754.7 841.3C1755.6 844.5 1756.5 847.8 1757.3 851.0C1758.2 854.2 1759.1 857.5 1760.0 860.7C1760.8 864.0 1761.7 867.2 1762.6 870.4C1763.5 873.7 1764.4 876.9 1765.3 880.2C1766.2 883.4 1767.1 886.6 1768.0 889.9C1768.9 893.1 1769.8 896.4 1770.7 899.6C1771.6 902.8 1772.5 906.1 1773.4 909.3C1774.4 912.5 1775.3 915.8 1776.2 919.0C1777.2 922.2 1778.1 925.5 1779.1 928.7C1780.0 931.9 1781.0 935.2 1781.9 938.4C1782.9 941.6 1783.9 944.8 1784.8 948.1C1785.8 951.3 1786.8 954.5 1787.8 957.7C1788.8 961.0 1789.8 964.2 1790.7 967.4C1791.7 970.6 1792.7 973.8 1793.7 977.1C1794.7 980.3 1795.7 983.5 1796.8 986.7C1797.8 989.9 1798.8 993.1 1799.8 996.4C1800.8 999.6 1801.8 1002.8 1802.8 1006.0C1803.8 1009.2 1804.8 1012.4 1805.8 1015.6C1806.9 1018.8 1807.9 1022.1 1808.9 1025.3C1809.9 1028.5 1810.9 1031.7 1811.9 1034.9C1812.9 1038.1 1813.9 1041.3 1814.9 1044.5C1815.9 1047.7 1816.9 1050.9 1817.9 1054.1C1818.9 1057.3 1819.9 1060.5 1820.8 1063.7C1821.8 1066.9 1822.8 1070.1 1823.8 1073.3C1824.8 1076.5 1825.7 1079.7 1826.7 1082.9C1827.7 1086.1 1828.7 1089.3 1829.7 1092.5C1830.7 1095.7 1831.7 1098.9 1832.7 1102.0C1833.7 1105.2 1834.7 1108.4 1835.7 1111.6C1836.7 1114.8 1837.8 1118.0 1838.8 1121.2C1839.8 1124.3 1840.9 1127.5 1841.9 1130.7C1843.0 1133.9 1844.1 1137.0 1845.2 1140.2C1846.3 1143.4 1847.4 1146.6 1848.5 1149.7C1849.6 1152.9 1850.8 1156.1 1851.9 1159.2C1853.1 1162.4 1854.3 1165.5 1855.5 1168.7C1856.7 1171.9 1857.9 1175.0 1859.2 1178.2C1860.4 1181.3 1861.7 1184.5 1863.0 1187.6C1864.3 1190.8 1865.7 1193.9 1867.0 1197.0C1868.4 1200.2 1869.8 1203.3 1871.2 1206.4C1872.7 1209.5 1874.1 1212.6 1875.6 1215.7C1877.1 1218.8 1878.6 1221.8 1880.2 1224.8C1881.8 1227.9 1883.4 1230.9 1885.1 1233.9C1886.7 1236.8 1888.4 1239.8 1890.1 1242.7C1891.9 1245.6 1893.7 1248.5 1895.5 1251.3C1897.3 1254.2 1899.2 1257.0 1901.1 1259.7C1903.0 1262.5 1905.0 1265.2 1907.0 1267.9C1909.1 1270.5 1911.2 1273.1 1913.3 1275.7C1915.4 1278.3 1917.6 1280.8 1919.9 1283.2C1922.1 1285.7 1924.4 1288.0 1926.8 1290.4C1929.2 1292.7 1931.6 1294.9 1934.1 1297.1C1936.6 1299.3 1939.1 1301.4 1941.7 1303.5C1944.4 1305.6 1947.0 1307.6 1949.7 1309.5C1952.4 1311.4 1955.2 1313.3 1958.0 1315.0C1960.8 1316.8 1963.7 1318.6 1966.6 1320.2C1969.4 1321.8 1972.4 1323.4 1975.4 1324.9C1978.3 1326.4 1981.4 1327.9 1984.4 1329.3C1987.5 1330.6 1990.6 1331.9 1993.7 1333.1C1996.8 1334.4 1999.9 1335.5 2003.1 1336.6C2006.3 1337.7 2009.5 1338.7 2012.7 1339.6C2016.0 1340.6 2019.2 1341.4 2022.5 1342.2C2025.8 1343.0 2029.1 1343.7 2032.4 1344.3C2035.7 1345.0 2039.0 1345.5 2042.3 1346.0C2045.7 1346.5 2049.0 1346.9 2052.4 1347.2C2055.7 1347.6 2059.1 1347.8 2062.5 1348.0C2065.8 1348.2 2069.2 1348.3 2072.6 1348.4C2076.0 1348.4 2079.4 1348.4 2082.8 1348.3C2086.1 1348.3 2089.5 1348.2 2092.9 1348.0C2096.3 1347.8 2099.7 1347.6 2103.1 1347.3C2106.5 1347.1 2109.9 1346.8 2113.3 1346.4C2116.7 1346.1 2120.1 1345.7 2123.5 1345.3C2126.9 1344.8 2130.3 1344.4 2133.6 1343.9C2137.0 1343.4 2140.4 1342.9 2143.8 1342.4C2147.1 1341.9 2150.5 1341.4 2153.8 1340.8C2157.2 1340.2 2160.5 1339.7 2163.8 1339.1C2167.1 1338.5 2170.4 1337.9 2173.7 1337.4C2177.0 1336.8 2180.3 1336.2 2183.6 1335.6C2186.9 1335.0 2190.1 1334.4 2193.3 1333.9C2196.6 1333.3 2201.4 1332.5 2203.0 1332.2" stroke="#0000ff"/>
</g>
<rect x="231" y="926" width="5.3" height="5.4" fill="#ec0000"/>
<g fill="#000">
<rect x="236.2" y="926.00" width="43.7" height="8.00"/><rect x="316.5" y="926.00" width="43.7" height="8.00"/><rect x="396.8" y="926.00" width="43.7" height="8.00"/><rect x="477.1" y="926.00" width="43.7" height="8.00"/><rect x="557.4" y="926.00" width="43.7" height="8.00"/><rect x="637.7" y="926.00" width="43.7" height="8.00"/><rect x="718.0" y="926.00" width="43.7" height="8.00"/><rect x="798.3" y="926.00" width="43.7" height="8.00"/><rect x="878.6" y="926.00" width="43.7" height="8.00"/><rect x="958.9" y="926.00" width="43.7" height="8.00"/><rect x="1039.2" y="926.00" width="43.7" height="8.00"/><rect x="1119.5" y="926.00" width="43.7" height="8.00"/><rect x="1199.8" y="926.00" width="43.7" height="8.00"/><rect x="1280.1" y="926.00" width="43.7" height="8.00"/><rect x="1360.4" y="926.00" width="43.7" height="8.00"/><rect x="1440.7" y="926.00" width="43.7" height="8.00"/><rect x="1521.0" y="926.00" width="43.7" height="8.00"/><rect x="1601.3" y="926.00" width="43.7" height="8.00"/><rect x="1681.6" y="926.00" width="43.7" height="8.00"/><rect x="1761.9" y="926.00" width="43.7" height="8.00"/><rect x="1842.2" y="926.00" width="43.7" height="8.00"/><rect x="1922.5" y="926.00" width="43.7" height="8.00"/><rect x="2002.8" y="926.00" width="43.7" height="8.00"/><rect x="2083.1" y="926.00" width="43.7" height="8.00"/><rect x="2163.4" y="926.00" width="32.6" height="8.00"/>
<rect x="1150.70" y="73.4" width="6.60" height="32.0"/><rect x="1150.70" y="134.9" width="6.60" height="32.0"/><rect x="1150.70" y="196.4" width="6.60" height="32.0"/><rect x="1150.70" y="257.9" width="6.60" height="32.0"/><rect x="1150.70" y="319.4" width="6.60" height="32.0"/><rect x="1150.70" y="380.9" width="6.60" height="32.0"/><rect x="1150.70" y="442.4" width="6.60" height="32.0"/><rect x="1150.70" y="503.9" width="6.60" height="32.0"/><rect x="1150.70" y="565.4" width="6.60" height="32.0"/><rect x="1150.70" y="626.9" width="6.60" height="32.0"/><rect x="1150.70" y="688.4" width="6.60" height="32.0"/><rect x="1150.70" y="749.9" width="6.60" height="32.0"/><rect x="1150.70" y="811.4" width="6.60" height="32.0"/><rect x="1150.70" y="872.9" width="6.60" height="32.0"/><rect x="1150.70" y="934.4" width="6.60" height="32.0"/><rect x="1150.70" y="995.9" width="6.60" height="32.0"/><rect x="1150.70" y="1057.4" width="6.60" height="32.0"/><rect x="1150.70" y="1118.9" width="6.60" height="32.0"/><rect x="1150.70" y="1180.4" width="6.60" height="32.0"/><rect x="1150.70" y="1241.9" width="6.60" height="32.0"/><rect x="1150.70" y="1303.4" width="6.60" height="32.0"/><rect x="1150.70" y="1364.9" width="6.60" height="32.0"/><rect x="1150.70" y="1426.4" width="6.60" height="32.0"/><rect x="1150.70" y="1487.9" width="6.60" height="32.0"/><rect x="1150.70" y="1549.4" width="6.60" height="32.0"/><rect x="1150.70" y="1610.9" width="6.60" height="32.0"/>
<rect x="1401.30" y="66.0" width="5.80" height="32.0"/><rect x="1401.30" y="127.5" width="5.80" height="32.0"/><rect x="1401.30" y="189.0" width="5.80" height="32.0"/><rect x="1401.30" y="250.5" width="5.80" height="32.0"/><rect x="1401.30" y="312.0" width="5.80" height="32.0"/><rect x="1401.30" y="373.5" width="5.80" height="32.0"/><rect x="1401.30" y="435.0" width="5.80" height="32.0"/><rect x="1401.30" y="496.5" width="5.80" height="32.0"/><rect x="1401.30" y="558.0" width="5.80" height="32.0"/><rect x="1401.30" y="619.5" width="5.80" height="32.0"/><rect x="1401.30" y="681.0" width="5.80" height="32.0"/><rect x="1401.30" y="742.5" width="5.80" height="32.0"/><rect x="1401.30" y="804.0" width="5.80" height="32.0"/><rect x="1401.30" y="865.5" width="5.80" height="32.0"/><rect x="1401.30" y="927.0" width="5.80" height="32.0"/><rect x="1401.30" y="988.5" width="5.80" height="32.0"/>
<rect x="1774.50" y="934.0" width="6.00" height="24.5"/><rect x="1774.50" y="988.0" width="6.00" height="32.0"/><rect x="1774.50" y="1049.5" width="6.00" height="32.0"/><rect x="1774.50" y="1111.0" width="6.00" height="32.0"/><rect x="1774.50" y="1172.5" width="6.00" height="32.0"/><rect x="1774.50" y="1234.0" width="6.00" height="32.0"/><rect x="1774.50" y="1295.5" width="6.00" height="32.0"/><rect x="1774.50" y="1357.0" width="6.00" height="32.0"/><rect x="1774.50" y="1418.5" width="6.00" height="32.0"/>
</g>
<line x1="1450.5" y1="170.6" x2="2155.5" y2="170.6" stroke="#000" stroke-width="6.0"/><polygon points="1403.0,170.6 1452.5,158.6 1452.5,182.6" fill="#000"/><polygon points="2203.0,170.6 2153.5,158.6 2153.5,182.6" fill="#000"/>
<line x1="280.2" y1="701.0" x2="1360.5" y2="701.0" stroke="#000" stroke-width="6.0"/><polygon points="232.7,701.0 282.2,689.0 282.2,713.0" fill="#000"/><polygon points="1408.0,701.0 1358.5,689.0 1358.5,713.0" fill="#000"/>
<line x1="280.2" y1="1451.7" x2="1106.5" y2="1451.7" stroke="#000" stroke-width="6.0"/><polygon points="232.7,1451.7 282.2,1439.7 282.2,1463.7" fill="#000"/><polygon points="1154.0,1451.7 1104.5,1439.7 1104.5,1463.7" fill="#000"/>
<line x1="1204.5" y1="1451.7" x2="1729.0" y2="1451.7" stroke="#000" stroke-width="6.0"/><polygon points="1157.0,1451.7 1206.5,1439.7 1206.5,1463.7" fill="#000"/><polygon points="1776.5,1451.7 1727.0,1439.7 1727.0,1463.7" fill="#000"/>
<g style="font-family:'Liberation Serif','Times New Roman',serif" fill="#000">
<text x="181" y="82.7" font-size="69.5" text-anchor="end">6</text>
<text x="181" y="370.9" font-size="69.5" text-anchor="end">4</text>
<text x="181" y="659.1" font-size="69.5" text-anchor="end">2</text>
<text x="181" y="947.2" font-size="69.5" text-anchor="end">0</text>
<text x="181" y="1235.4" font-size="69.5" text-anchor="end">-2</text>
<text x="181" y="1523.6" font-size="69.5" text-anchor="end">-4</text>
<text x="232.0" y="1753" font-size="69.5" text-anchor="middle">0.20</text>
<text x="610.2" y="1753" font-size="69.5" text-anchor="middle">0.21</text>
<text x="988.4" y="1753" font-size="69.5" text-anchor="middle">0.22</text>
<text x="1366.6" y="1753" font-size="69.5" text-anchor="middle">0.23</text>
<text x="1744.8" y="1753" font-size="69.5" text-anchor="middle">0.24</text>
<text x="2123.0" y="1753" font-size="69.5" text-anchor="middle">0.25</text>
<text x="1215" y="1880.6" font-size="83.2" text-anchor="middle">Time (s)</text>
<text transform="translate(89.5,855) rotate(-90)" font-size="83.6" text-anchor="middle">Velocity (m/s)</text>
<text x="465" y="232.4" font-size="75">FPELG coupling with</text>
<text x="470" y="325" font-size="75">mechanical spring</text>
<text x="470.3" y="415.5" font-size="74.2">FPELG coupling with</text>
<text x="472.8" y="507.8" font-size="74.6">ideal gas spring</text>
<text x="745" y="778" font-size="67.6" text-anchor="middle" fill="#ec0000">Compression stroke</text>
<text x="744" y="861" font-size="60" text-anchor="middle">(Mechanical Spring)</text>
<text x="1919.5" y="246.5" font-size="67.6" text-anchor="middle" fill="#ec0000">Expansion stroke</text>
<g clip-path="url(#pc)"><text x="1717" y="328" font-size="60" text-anchor="start">(Mechanical Spring)</text></g>
<text x="663.5" y="1528" font-size="67.6" text-anchor="middle" fill="#0000ff">Compression stroke</text>
<text x="640.5" y="1596" font-size="60.5" text-anchor="middle">(Gas Spring)</text>
<text x="1498.5" y="1528" font-size="67.6" text-anchor="middle" fill="#0000ff">Expansion stroke</text>
<text x="1502.3" y="1599.5" font-size="60.5" text-anchor="middle">(Gas Spring)</text>
</g>
<line x1="279.5" y1="208.5" x2="454" y2="208.5" stroke="#ec0000" stroke-width="11"/><rect x="277" y="206" width="3" height="5" fill="#ec0000"/>
<line x1="279.5" y1="392" x2="454" y2="392" stroke="#0000ff" stroke-width="11"/><rect x="277" y="389.5" width="3" height="5" fill="#0000ff"/>
</svg>
</body></html>
